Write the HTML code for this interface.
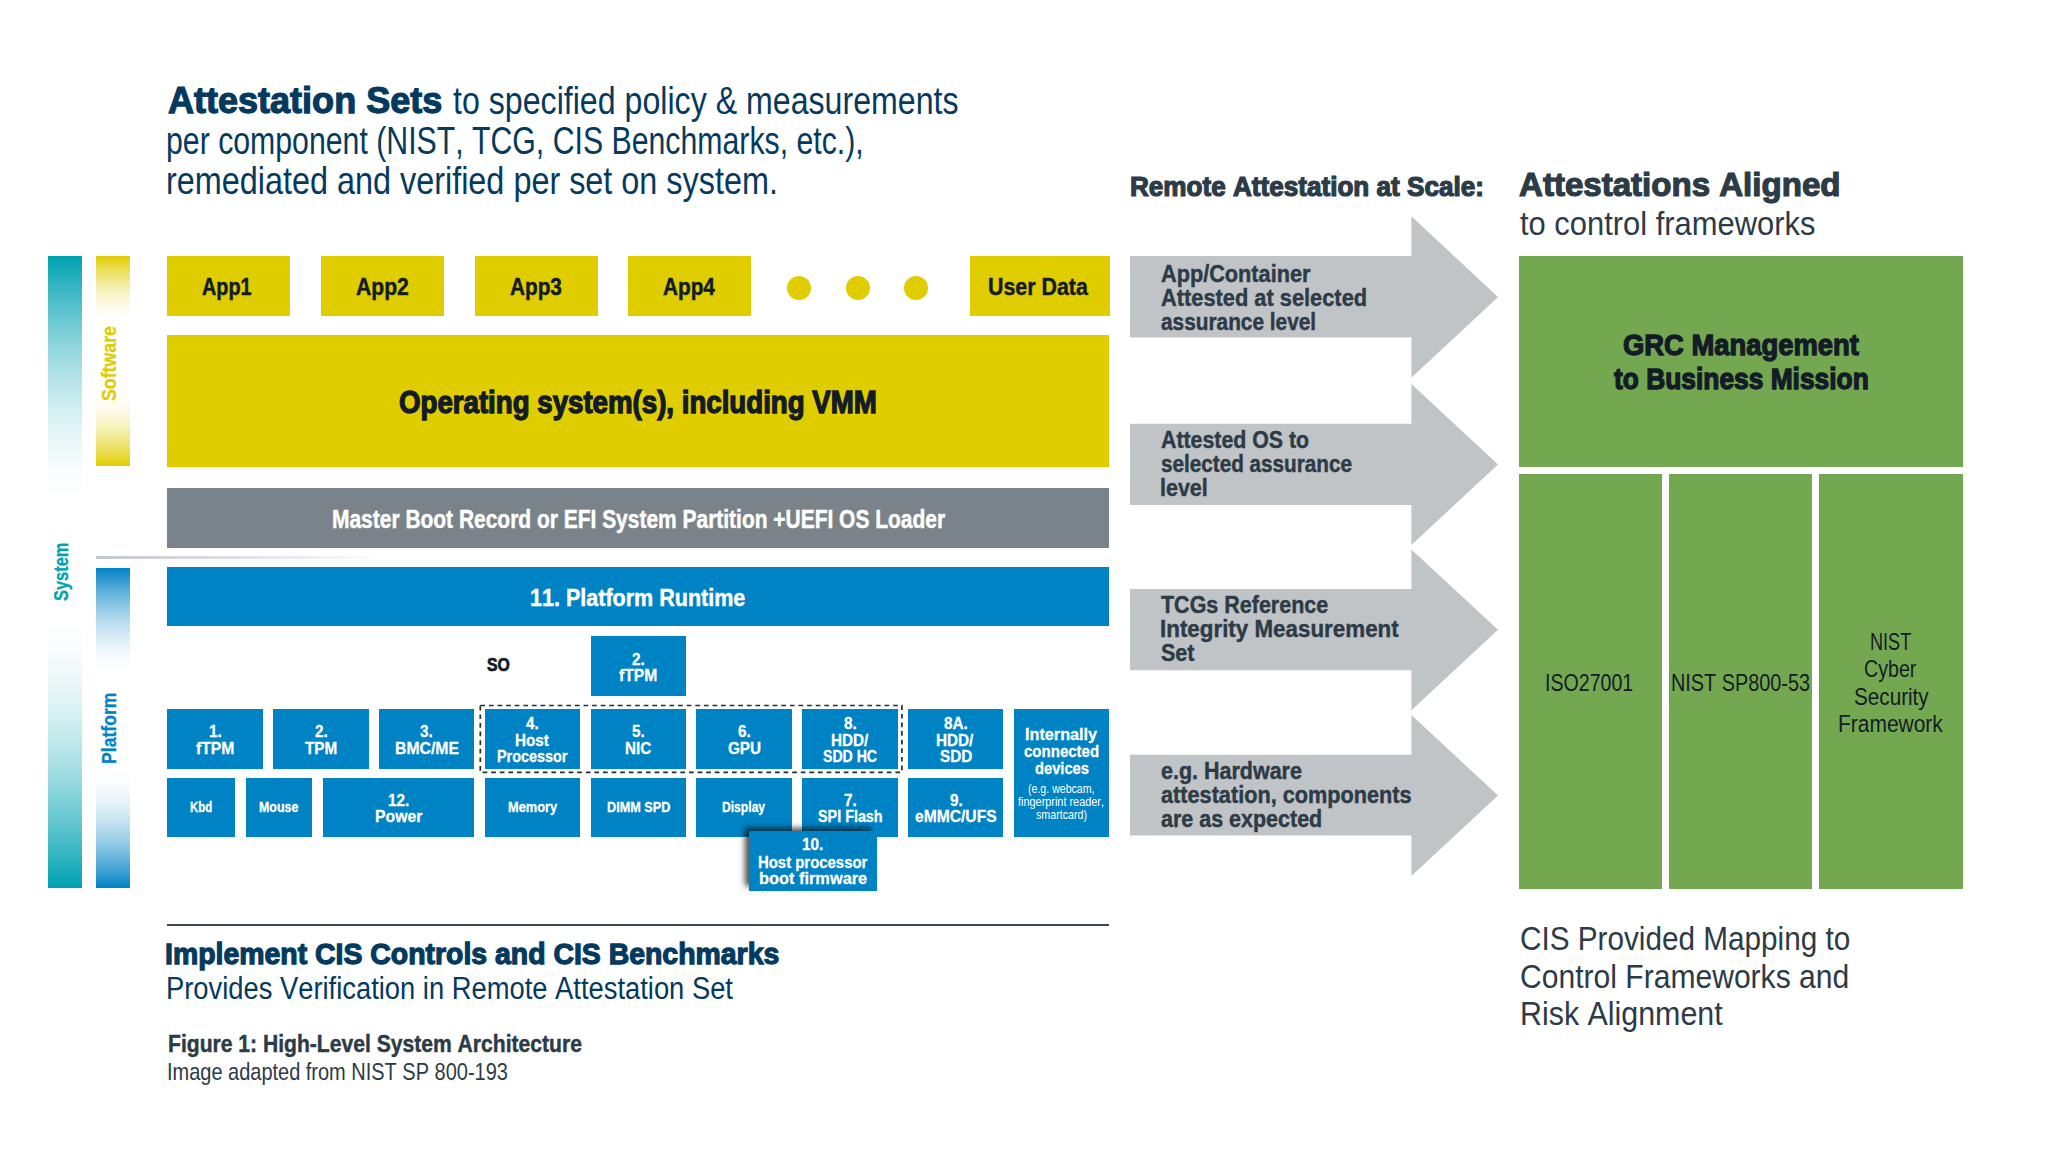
<!DOCTYPE html>
<html><head><meta charset="utf-8"><style>
html,body{margin:0;padding:0;background:#fff;}
body{width:2048px;height:1152px;position:relative;overflow:hidden;font-family:"Liberation Sans",sans-serif;}
.r{position:absolute;}
.t{position:absolute;white-space:nowrap;transform-origin:0 0;font-kerning:none;}
</style></head><body>
<div class="r" style="left:48px;top:256px;width:34px;height:632px;background:linear-gradient(to bottom,rgb(0,161,177) 0.00%,rgb(54,181,194) 4.88%,rgb(103,199,209) 9.75%,rgb(146,215,222) 14.62%,rgb(182,228,233) 19.50%,rgb(211,239,242) 24.38%,rgb(234,247,249) 29.25%,rgb(249,253,253) 34.12%,rgb(255,255,255) 39.00%,rgb(255,255,255) 57.00%,rgb(249,253,253) 62.38%,rgb(234,247,249) 67.75%,rgb(211,239,242) 73.12%,rgb(182,228,233) 78.50%,rgb(146,215,222) 83.88%,rgb(103,199,209) 89.25%,rgb(54,181,194) 94.62%,rgb(0,161,177) 100.00%)"></div>
<div class="r" style="left:96px;top:256px;width:34px;height:210px;background:linear-gradient(to bottom,rgb(224,205,0) 0.00%,rgb(231,216,54) 4.00%,rgb(237,225,103) 8.00%,rgb(242,234,146) 12.00%,rgb(246,241,182) 16.00%,rgb(250,246,211) 20.00%,rgb(252,251,234) 24.00%,rgb(254,254,249) 28.00%,rgb(255,255,255) 32.00%,rgb(255,255,255) 64.00%,rgb(254,254,249) 68.50%,rgb(252,251,234) 73.00%,rgb(250,246,211) 77.50%,rgb(246,241,182) 82.00%,rgb(242,234,146) 86.50%,rgb(237,225,103) 91.00%,rgb(231,216,54) 95.50%,rgb(224,205,0) 100.00%)"></div>
<div class="r" style="left:96px;top:567.5px;width:34px;height:320.5px;background:linear-gradient(to bottom,rgb(0,131,197) 0.00%,rgb(54,157,209) 4.12%,rgb(103,181,220) 8.25%,rgb(146,202,230) 12.38%,rgb(182,219,238) 16.50%,rgb(211,234,245) 20.62%,rgb(234,245,250) 24.75%,rgb(249,252,254) 28.88%,rgb(255,255,255) 33.00%,rgb(255,255,255) 63.00%,rgb(249,252,254) 67.62%,rgb(234,245,250) 72.25%,rgb(211,234,245) 76.88%,rgb(182,219,238) 81.50%,rgb(146,202,230) 86.12%,rgb(103,181,220) 90.75%,rgb(54,157,209) 95.38%,rgb(0,131,197) 100.00%)"></div>
<div class="r" style="left:96px;top:555.5px;width:290px;height:3.2px;background:linear-gradient(to right,#c5c8cb 0%,#dfe1e3 50%,#ffffff 100%)"></div>
<div class="r" style="left:167px;top:256px;width:123px;height:60px;background:#e0cd00"></div>
<div class="r" style="left:321px;top:256px;width:123px;height:60px;background:#e0cd00"></div>
<div class="r" style="left:474.5px;top:256px;width:123px;height:60px;background:#e0cd00"></div>
<div class="r" style="left:628px;top:256px;width:123px;height:60px;background:#e0cd00"></div>
<div class="r" style="left:969.5px;top:256px;width:140px;height:60px;background:#e0cd00"></div>
<div class="r" style="left:786.7px;top:276.3px;width:24px;height:24px;border-radius:50%;background:#e0cd00"></div>
<div class="r" style="left:845.5px;top:276.3px;width:24px;height:24px;border-radius:50%;background:#e0cd00"></div>
<div class="r" style="left:904.3px;top:276.3px;width:24px;height:24px;border-radius:50%;background:#e0cd00"></div>
<div class="r" style="left:167px;top:335.4px;width:942.4px;height:131.6px;background:#e0cd00"></div>
<div class="r" style="left:167px;top:488.3px;width:942.4px;height:59.4px;background:#7a8389"></div>
<div class="r" style="left:167px;top:566.7px;width:942.4px;height:59.3px;background:#0083c5"></div>
<div class="r" style="left:590.5px;top:636.4px;width:95.5px;height:59.6px;background:#0083c5"></div>
<div class="r" style="left:167px;top:709.3px;width:96px;height:59.3px;background:#0083c5"></div>
<div class="r" style="left:273px;top:709.3px;width:95.5px;height:59.3px;background:#0083c5"></div>
<div class="r" style="left:379px;top:709.3px;width:95px;height:59.3px;background:#0083c5"></div>
<div class="r" style="left:484.8px;top:709.3px;width:95.4px;height:59.3px;background:#0083c5"></div>
<div class="r" style="left:590.5px;top:709.3px;width:95.5px;height:59.3px;background:#0083c5"></div>
<div class="r" style="left:696.2px;top:709.3px;width:95.4px;height:59.3px;background:#0083c5"></div>
<div class="r" style="left:802.2px;top:709.3px;width:95.4px;height:59.3px;background:#0083c5"></div>
<div class="r" style="left:908px;top:709.3px;width:95.3px;height:59.3px;background:#0083c5"></div>
<div class="r" style="left:1013.6px;top:709.3px;width:95.6px;height:127.6px;background:#0083c5"></div>
<div class="r" style="left:167px;top:777.6px;width:68.3px;height:59.3px;background:#0083c5"></div>
<div class="r" style="left:246px;top:777.6px;width:66px;height:59.3px;background:#0083c5"></div>
<div class="r" style="left:322.5px;top:777.6px;width:151.5px;height:59.3px;background:#0083c5"></div>
<div class="r" style="left:484.8px;top:777.6px;width:95.4px;height:59.3px;background:#0083c5"></div>
<div class="r" style="left:590.5px;top:777.6px;width:95.5px;height:59.3px;background:#0083c5"></div>
<div class="r" style="left:696.2px;top:777.6px;width:95.4px;height:59.3px;background:#0083c5"></div>
<div class="r" style="left:802.2px;top:777.6px;width:95.4px;height:59.3px;background:#0083c5"></div>
<div class="r" style="left:908px;top:777.6px;width:95.3px;height:59.3px;background:#0083c5"></div>
<svg class="r" style="left:0;top:0" width="2048" height="1152"><rect x="480.3" y="705.5" width="421.6" height="66.8" fill="none" stroke="#262b30" stroke-width="1.7" stroke-dasharray="4.7 3.9"/></svg>
<div class="r" style="left:749px;top:831px;width:128px;height:59.7px;background:#0083c5;box-shadow:-5px -4px 6px -1px rgba(0,0,0,0.7)"></div>
<svg class="r" style="left:0;top:0" width="2048" height="1152"><polygon points="1130,256.0 1411.4,256.0 1411.4,216.2 1498,297.0 1411.4,377.8 1411.4,337.6 1130,337.6" fill="#c1c4c7"/><polygon points="1130,423.8 1411.4,423.8 1411.4,383.9 1498,464.4 1411.4,545.0 1411.4,505.0 1130,505.0" fill="#c1c4c7"/><polygon points="1130,589.0 1411.4,589.0 1411.4,549.4 1498,629.8 1411.4,710.3 1411.4,670.3 1130,670.3" fill="#c1c4c7"/><polygon points="1130,754.7 1411.4,754.7 1411.4,715.0 1498,795.5 1411.4,876.0 1411.4,835.6 1130,835.6" fill="#c1c4c7"/></svg>
<div class="r" style="left:1519px;top:256px;width:443.6px;height:210.5px;background:#74a850"></div>
<div class="r" style="left:1519px;top:473.8px;width:143px;height:415.7px;background:#74a850"></div>
<div class="r" style="left:1669.2px;top:473.8px;width:143.2px;height:415.7px;background:#74a850"></div>
<div class="r" style="left:1819.4px;top:473.8px;width:143.2px;height:415.7px;background:#74a850"></div>
<div class="r" style="left:167px;top:924px;width:942.2px;height:2px;background:#3b4850"></div>
<div class="t" style="left:167.60px;top:81.73px;font-size:37.53px;line-height:37.53px;font-weight:700;color:#053a5e;transform:scaleX(0.9603);-webkit-text-stroke:1.25px #053a5e">Attestation Sets</div>
<div class="t" style="left:453.00px;top:81.59px;font-size:38.40px;line-height:38.40px;font-weight:400;color:#053a5e;transform:scaleX(0.8373)">to specified policy &amp; measurements</div>
<div class="t" style="left:166.42px;top:122.09px;font-size:38.40px;line-height:38.40px;font-weight:400;color:#053a5e;transform:scaleX(0.7880)">per component (NIST, TCG, CIS Benchmarks, etc.),</div>
<div class="t" style="left:166.31px;top:162.49px;font-size:38.40px;line-height:38.40px;font-weight:400;color:#053a5e;transform:scaleX(0.8434)">remediated and verified per set on system.</div>
<div class="t" style="left:202.25px;top:275.25px;font-size:23.81px;line-height:23.81px;font-weight:700;color:#131c26;transform:scaleX(0.8320);-webkit-text-stroke:0.48px #131c26">App1</div>
<div class="t" style="left:355.50px;top:275.25px;font-size:23.81px;line-height:23.81px;font-weight:700;color:#131c26;transform:scaleX(0.8877);-webkit-text-stroke:0.45px #131c26">App2</div>
<div class="t" style="left:509.64px;top:275.25px;font-size:23.81px;line-height:23.81px;font-weight:700;color:#131c26;transform:scaleX(0.8726);-webkit-text-stroke:0.46px #131c26">App3</div>
<div class="t" style="left:663.21px;top:275.25px;font-size:23.81px;line-height:23.81px;font-weight:700;color:#131c26;transform:scaleX(0.8726);-webkit-text-stroke:0.46px #131c26">App4</div>
<div class="t" style="left:988.30px;top:275.25px;font-size:23.81px;line-height:23.81px;font-weight:700;color:#131c26;transform:scaleX(0.8983);-webkit-text-stroke:0.45px #131c26">User Data</div>
<div class="t" style="left:399.45px;top:386.67px;font-size:30.63px;line-height:30.63px;font-weight:700;color:#131c26;transform:scaleX(0.9029);-webkit-text-stroke:1.33px #131c26">Operating system(s), including VMM</div>
<div class="t" style="left:331.81px;top:506.71px;font-size:24.91px;line-height:24.91px;font-weight:700;color:#ffffff;transform:scaleX(0.8414);-webkit-text-stroke:0.48px #ffffff">Master Boot Record or EFI System Partition +UEFI OS Loader</div>
<div class="t" style="left:530.35px;top:585.88px;font-size:24.01px;line-height:24.01px;font-weight:700;color:#ffffff;transform:scaleX(0.8969);-webkit-text-stroke:0.45px #ffffff">11. Platform Runtime</div>
<div class="t" style="left:487.30px;top:654.76px;font-size:19.06px;line-height:19.06px;font-weight:700;color:#131c26;transform:scaleX(0.8302);-webkit-text-stroke:0.72px #131c26">SO</div>
<div class="t" style="left:208.52px;top:723.28px;font-size:17.12px;line-height:17.12px;font-weight:700;color:#ffffff;transform:scaleX(0.8923);-webkit-text-stroke:0.28px #ffffff">1.</div>
<div class="t" style="left:195.62px;top:739.88px;font-size:17.12px;line-height:17.12px;font-weight:700;color:#ffffff;transform:scaleX(0.9179);-webkit-text-stroke:0.27px #ffffff">fTPM</div>
<div class="t" style="left:314.72px;top:723.28px;font-size:17.12px;line-height:17.12px;font-weight:700;color:#ffffff;transform:scaleX(0.8923);-webkit-text-stroke:0.28px #ffffff">2.</div>
<div class="t" style="left:304.75px;top:739.88px;font-size:17.12px;line-height:17.12px;font-weight:700;color:#ffffff;transform:scaleX(0.8923);-webkit-text-stroke:0.28px #ffffff">TPM</div>
<div class="t" style="left:420.47px;top:723.28px;font-size:17.12px;line-height:17.12px;font-weight:700;color:#ffffff;transform:scaleX(0.8923);-webkit-text-stroke:0.28px #ffffff">3.</div>
<div class="t" style="left:394.60px;top:739.88px;font-size:17.12px;line-height:17.12px;font-weight:700;color:#ffffff;transform:scaleX(0.9232);-webkit-text-stroke:0.27px #ffffff">BMC/ME</div>
<div class="t" style="left:526.47px;top:714.68px;font-size:17.12px;line-height:17.12px;font-weight:700;color:#ffffff;transform:scaleX(0.8923);-webkit-text-stroke:0.28px #ffffff">4.</div>
<div class="t" style="left:514.96px;top:731.88px;font-size:17.12px;line-height:17.12px;font-weight:700;color:#ffffff;transform:scaleX(0.8923);-webkit-text-stroke:0.28px #ffffff">Host</div>
<div class="t" style="left:497.38px;top:748.48px;font-size:17.12px;line-height:17.12px;font-weight:700;color:#ffffff;transform:scaleX(0.8400);-webkit-text-stroke:0.30px #ffffff">Processor</div>
<div class="t" style="left:632.17px;top:723.28px;font-size:17.12px;line-height:17.12px;font-weight:700;color:#ffffff;transform:scaleX(0.8923);-webkit-text-stroke:0.28px #ffffff">5.</div>
<div class="t" style="left:624.77px;top:739.88px;font-size:17.12px;line-height:17.12px;font-weight:700;color:#ffffff;transform:scaleX(0.8923);-webkit-text-stroke:0.28px #ffffff">NIC</div>
<div class="t" style="left:737.87px;top:723.28px;font-size:17.12px;line-height:17.12px;font-weight:700;color:#ffffff;transform:scaleX(0.8923);-webkit-text-stroke:0.28px #ffffff">6.</div>
<div class="t" style="left:727.52px;top:739.88px;font-size:17.12px;line-height:17.12px;font-weight:700;color:#ffffff;transform:scaleX(0.8923);-webkit-text-stroke:0.28px #ffffff">GPU</div>
<div class="t" style="left:843.87px;top:714.68px;font-size:17.12px;line-height:17.12px;font-weight:700;color:#ffffff;transform:scaleX(0.8923);-webkit-text-stroke:0.28px #ffffff">8.</div>
<div class="t" style="left:830.68px;top:731.88px;font-size:17.12px;line-height:17.12px;font-weight:700;color:#ffffff;transform:scaleX(0.8923);-webkit-text-stroke:0.28px #ffffff">HDD/</div>
<div class="t" style="left:823.23px;top:748.48px;font-size:17.12px;line-height:17.12px;font-weight:700;color:#ffffff;transform:scaleX(0.8240);-webkit-text-stroke:0.30px #ffffff">SDD HC</div>
<div class="t" style="left:944.06px;top:714.68px;font-size:17.12px;line-height:17.12px;font-weight:700;color:#ffffff;transform:scaleX(0.8923);-webkit-text-stroke:0.28px #ffffff">8A.</div>
<div class="t" style="left:936.38px;top:731.88px;font-size:17.12px;line-height:17.12px;font-weight:700;color:#ffffff;transform:scaleX(0.8923);-webkit-text-stroke:0.28px #ffffff">HDD/</div>
<div class="t" style="left:939.64px;top:748.48px;font-size:17.12px;line-height:17.12px;font-weight:700;color:#ffffff;transform:scaleX(0.8923);-webkit-text-stroke:0.28px #ffffff">SDD</div>
<div class="t" style="left:1025.07px;top:726.85px;font-size:16.92px;line-height:16.92px;font-weight:700;color:#ffffff;transform:scaleX(0.9597);-webkit-text-stroke:0.26px #ffffff">Internally</div>
<div class="t" style="left:1024.17px;top:743.75px;font-size:16.92px;line-height:16.92px;font-weight:700;color:#ffffff;transform:scaleX(0.8887);-webkit-text-stroke:0.28px #ffffff">connected</div>
<div class="t" style="left:1035.12px;top:760.65px;font-size:16.92px;line-height:16.92px;font-weight:700;color:#ffffff;transform:scaleX(0.8688);-webkit-text-stroke:0.29px #ffffff">devices</div>
<div class="t" style="left:1028.00px;top:781.50px;font-size:13.00px;line-height:13.00px;font-weight:400;color:#ffffff;transform:scaleX(0.8145)">(e.g. webcam,</div>
<div class="t" style="left:1018.45px;top:794.90px;font-size:13.00px;line-height:13.00px;font-weight:400;color:#ffffff;transform:scaleX(0.8383)">fingerprint reader,</div>
<div class="t" style="left:1036.25px;top:808.00px;font-size:13.00px;line-height:13.00px;font-weight:400;color:#ffffff;transform:scaleX(0.8205)">smartcard)</div>
<div class="t" style="left:190.23px;top:800.12px;font-size:14.72px;line-height:14.72px;font-weight:700;color:#ffffff;transform:scaleX(0.7745);-webkit-text-stroke:0.32px #ffffff">Kbd</div>
<div class="t" style="left:259.43px;top:800.12px;font-size:14.72px;line-height:14.72px;font-weight:700;color:#ffffff;transform:scaleX(0.8440);-webkit-text-stroke:0.30px #ffffff">Mouse</div>
<div class="t" style="left:387.53px;top:791.58px;font-size:17.12px;line-height:17.12px;font-weight:700;color:#ffffff;transform:scaleX(0.8923);-webkit-text-stroke:0.28px #ffffff">12.</div>
<div class="t" style="left:374.70px;top:808.18px;font-size:17.12px;line-height:17.12px;font-weight:700;color:#ffffff;transform:scaleX(0.9223);-webkit-text-stroke:0.27px #ffffff">Power</div>
<div class="t" style="left:507.62px;top:800.12px;font-size:14.72px;line-height:14.72px;font-weight:700;color:#ffffff;transform:scaleX(0.8697);-webkit-text-stroke:0.29px #ffffff">Memory</div>
<div class="t" style="left:606.83px;top:800.12px;font-size:14.72px;line-height:14.72px;font-weight:700;color:#ffffff;transform:scaleX(0.8608);-webkit-text-stroke:0.29px #ffffff">DIMM SPD</div>
<div class="t" style="left:722.12px;top:800.12px;font-size:14.72px;line-height:14.72px;font-weight:700;color:#ffffff;transform:scaleX(0.8235);-webkit-text-stroke:0.30px #ffffff">Display</div>
<div class="t" style="left:843.87px;top:791.58px;font-size:17.12px;line-height:17.12px;font-weight:700;color:#ffffff;transform:scaleX(0.8923);-webkit-text-stroke:0.28px #ffffff">7.</div>
<div class="t" style="left:817.77px;top:808.18px;font-size:17.12px;line-height:17.12px;font-weight:700;color:#ffffff;transform:scaleX(0.8391);-webkit-text-stroke:0.30px #ffffff">SPI Flash</div>
<div class="t" style="left:949.57px;top:791.58px;font-size:17.12px;line-height:17.12px;font-weight:700;color:#ffffff;transform:scaleX(0.8923);-webkit-text-stroke:0.28px #ffffff">9.</div>
<div class="t" style="left:914.58px;top:808.18px;font-size:17.12px;line-height:17.12px;font-weight:700;color:#ffffff;transform:scaleX(0.9136);-webkit-text-stroke:0.27px #ffffff">eMMC/UFS</div>
<div class="t" style="left:802.28px;top:836.38px;font-size:17.12px;line-height:17.12px;font-weight:700;color:#ffffff;transform:scaleX(0.8923);-webkit-text-stroke:0.28px #ffffff">10.</div>
<div class="t" style="left:757.95px;top:853.58px;font-size:17.12px;line-height:17.12px;font-weight:700;color:#ffffff;transform:scaleX(0.8711);-webkit-text-stroke:0.29px #ffffff">Host processor</div>
<div class="t" style="left:758.87px;top:870.18px;font-size:17.12px;line-height:17.12px;font-weight:700;color:#ffffff;transform:scaleX(0.9565);-webkit-text-stroke:0.26px #ffffff">boot firmware</div>
<div class="t" style="left:632.17px;top:650.58px;font-size:17.12px;line-height:17.12px;font-weight:700;color:#ffffff;transform:scaleX(0.8923);-webkit-text-stroke:0.28px #ffffff">2.</div>
<div class="t" style="left:618.98px;top:667.08px;font-size:17.12px;line-height:17.12px;font-weight:700;color:#ffffff;transform:scaleX(0.9155);-webkit-text-stroke:0.27px #ffffff">fTPM</div>
<div class="t" style="left:100.14px;top:400.90px;font-size:19.80px;line-height:19.80px;font-weight:700;color:#e0cd00;transform:rotate(-90deg) scaleX(0.8978);-webkit-text-stroke:0.28px #e0cd00">Software</div>
<div class="t" style="left:52.44px;top:601.00px;font-size:19.80px;line-height:19.80px;font-weight:700;color:#00a1b1;transform:rotate(-90deg) scaleX(0.8311);-webkit-text-stroke:0.30px #00a1b1">System</div>
<div class="t" style="left:100.14px;top:764.29px;font-size:19.80px;line-height:19.80px;font-weight:700;color:#0083c5;transform:rotate(-90deg) scaleX(0.8901);-webkit-text-stroke:0.28px #0083c5">Platform</div>
<div class="t" style="left:1130.23px;top:173.72px;font-size:27.03px;line-height:27.03px;font-weight:700;color:#2c3b46;transform:scaleX(0.9661);-webkit-text-stroke:1.24px #2c3b46">Remote Attestation at Scale:</div>
<div class="t" style="left:1161.00px;top:263.13px;font-size:23.71px;line-height:23.71px;font-weight:700;color:#2c3b46;transform:scaleX(0.9150);-webkit-text-stroke:0.44px #2c3b46">App/Container</div>
<div class="t" style="left:1161.00px;top:287.13px;font-size:23.71px;line-height:23.71px;font-weight:700;color:#2c3b46;transform:scaleX(0.9203);-webkit-text-stroke:0.43px #2c3b46">Attested at selected</div>
<div class="t" style="left:1161.00px;top:310.83px;font-size:23.71px;line-height:23.71px;font-weight:700;color:#2c3b46;transform:scaleX(0.8783);-webkit-text-stroke:0.46px #2c3b46">assurance level</div>
<div class="t" style="left:1161.00px;top:429.03px;font-size:23.71px;line-height:23.71px;font-weight:700;color:#2c3b46;transform:scaleX(0.8998);-webkit-text-stroke:0.44px #2c3b46">Attested OS to</div>
<div class="t" style="left:1161.00px;top:453.03px;font-size:23.71px;line-height:23.71px;font-weight:700;color:#2c3b46;transform:scaleX(0.8727);-webkit-text-stroke:0.46px #2c3b46">selected assurance</div>
<div class="t" style="left:1160.09px;top:476.93px;font-size:23.71px;line-height:23.71px;font-weight:700;color:#2c3b46;transform:scaleX(0.9064);-webkit-text-stroke:0.44px #2c3b46">level</div>
<div class="t" style="left:1161.00px;top:594.43px;font-size:23.71px;line-height:23.71px;font-weight:700;color:#2c3b46;transform:scaleX(0.9064);-webkit-text-stroke:0.44px #2c3b46">TCGs Reference</div>
<div class="t" style="left:1160.06px;top:618.33px;font-size:23.71px;line-height:23.71px;font-weight:700;color:#2c3b46;transform:scaleX(0.9438);-webkit-text-stroke:0.42px #2c3b46">Integrity Measurement</div>
<div class="t" style="left:1161.00px;top:642.33px;font-size:23.71px;line-height:23.71px;font-weight:700;color:#2c3b46;transform:scaleX(0.9064);-webkit-text-stroke:0.44px #2c3b46">Set</div>
<div class="t" style="left:1161.00px;top:760.13px;font-size:23.71px;line-height:23.71px;font-weight:700;color:#2c3b46;transform:scaleX(0.9064);-webkit-text-stroke:0.44px #2c3b46">e.g. Hardware</div>
<div class="t" style="left:1161.00px;top:783.93px;font-size:23.71px;line-height:23.71px;font-weight:700;color:#2c3b46;transform:scaleX(0.9149);-webkit-text-stroke:0.44px #2c3b46">attestation, components</div>
<div class="t" style="left:1161.00px;top:807.93px;font-size:23.71px;line-height:23.71px;font-weight:700;color:#2c3b46;transform:scaleX(0.9064);-webkit-text-stroke:0.44px #2c3b46">are as expected</div>
<div class="t" style="left:1519.20px;top:167.93px;font-size:33.63px;line-height:33.63px;font-weight:700;color:#2c3b46;transform:scaleX(0.9833);-webkit-text-stroke:1.22px #2c3b46">Attestations Aligned</div>
<div class="t" style="left:1520.00px;top:206.87px;font-size:33.00px;line-height:33.00px;font-weight:400;color:#2c3b46;transform:scaleX(0.9367)">to control frameworks</div>
<div class="t" style="left:1622.69px;top:330.20px;font-size:30.13px;line-height:30.13px;font-weight:700;color:#131c26;transform:scaleX(0.9091);-webkit-text-stroke:1.32px #131c26">GRC Management</div>
<div class="t" style="left:1613.60px;top:364.20px;font-size:30.13px;line-height:30.13px;font-weight:700;color:#131c26;transform:scaleX(0.8746);-webkit-text-stroke:1.37px #131c26">to Business Mission</div>
<div class="t" style="left:1545.47px;top:670.90px;font-size:24.10px;line-height:24.10px;font-weight:400;color:#131c26;transform:scaleX(0.8133)">ISO27001</div>
<div class="t" style="left:1671.08px;top:670.90px;font-size:24.10px;line-height:24.10px;font-weight:400;color:#131c26;transform:scaleX(0.8241)">NIST SP800-53</div>
<div class="t" style="left:1869.95px;top:630.20px;font-size:24.10px;line-height:24.10px;font-weight:400;color:#131c26;transform:scaleX(0.7514)">NIST</div>
<div class="t" style="left:1864.49px;top:657.20px;font-size:24.10px;line-height:24.10px;font-weight:400;color:#131c26;transform:scaleX(0.8143)">Cyber</div>
<div class="t" style="left:1853.54px;top:684.90px;font-size:24.10px;line-height:24.10px;font-weight:400;color:#131c26;transform:scaleX(0.8583)">Security</div>
<div class="t" style="left:1838.16px;top:711.80px;font-size:24.10px;line-height:24.10px;font-weight:400;color:#131c26;transform:scaleX(0.8698)">Framework</div>
<div class="t" style="left:1520.12px;top:922.19px;font-size:33.80px;line-height:33.80px;font-weight:400;color:#2c3b46;transform:scaleX(0.8788)">CIS Provided Mapping to</div>
<div class="t" style="left:1520.11px;top:959.89px;font-size:33.80px;line-height:33.80px;font-weight:400;color:#2c3b46;transform:scaleX(0.8897)">Control Frameworks and</div>
<div class="t" style="left:1519.50px;top:997.39px;font-size:33.80px;line-height:33.80px;font-weight:400;color:#2c3b46;transform:scaleX(0.8991)">Risk Alignment</div>
<div class="t" style="left:165.23px;top:938.83px;font-size:30.33px;line-height:30.33px;font-weight:700;color:#053a5e;transform:scaleX(0.9370);-webkit-text-stroke:1.28px #053a5e">Implement CIS Controls and CIS Benchmarks</div>
<div class="t" style="left:166.30px;top:972.43px;font-size:32.10px;line-height:32.10px;font-weight:400;color:#053a5e;transform:scaleX(0.8525)">Provides Verification in Remote Attestation Set</div>
<div class="t" style="left:167.72px;top:1032.28px;font-size:24.01px;line-height:24.01px;font-weight:700;color:#2c3b46;transform:scaleX(0.8791);-webkit-text-stroke:0.45px #2c3b46">Figure 1: High-Level System Architecture</div>
<div class="t" style="left:167.19px;top:1059.61px;font-size:24.80px;line-height:24.80px;font-weight:400;color:#2c3b46;transform:scaleX(0.8055)">Image adapted from NIST SP 800-193</div>
</body></html>
